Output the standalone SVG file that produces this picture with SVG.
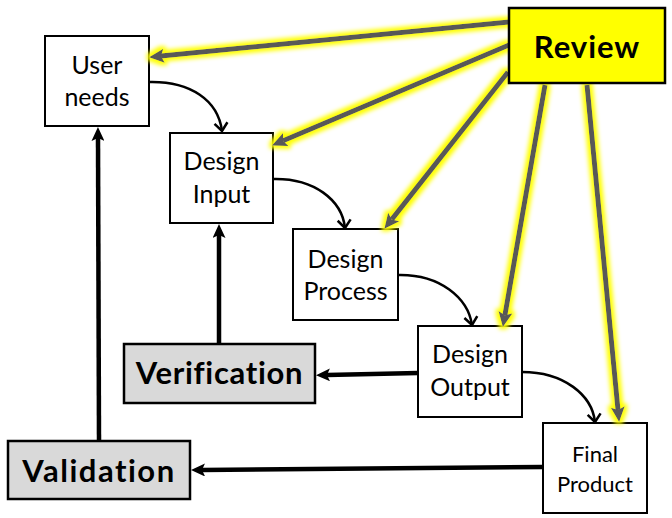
<svg xmlns="http://www.w3.org/2000/svg" width="672" height="518" viewBox="0 0 672 518">
<style>
.box{fill:#ffffff;stroke:#000;stroke-width:2}
.gbox{fill:#d9d9d9;stroke:#000;stroke-width:2.5}
.ybox{fill:#ffff00;stroke:#000;stroke-width:2.5}
.t{font-family:Lato,"Liberation Sans",sans-serif;font-size:25px;fill:#000;text-anchor:middle}
.ts{font-family:Lato,"Liberation Sans",sans-serif;font-size:22px;fill:#000;text-anchor:middle}
.tb{font-family:Lato,"Liberation Sans",sans-serif;font-size:31px;font-weight:bold;fill:#000;text-anchor:middle}
.gray{stroke:#595959;stroke-width:5;fill:none;marker-end:url(#gh)}
.thick{stroke:#000;stroke-width:4.5;fill:none;marker-end:url(#bh)}
.thin{stroke:#000;stroke-width:2.5;fill:none;marker-end:url(#ch)}
</style>
<defs>
<marker id="gh" viewBox="0 0 15 14" markerWidth="15" markerHeight="14" refX="3" refY="7" orient="auto" markerUnits="userSpaceOnUse">
<path d="M0,0 L15,7 L0,14 L3,7 z" fill="#595959"/>
</marker>
<marker id="bh" viewBox="0 0 14 13" markerWidth="14" markerHeight="13" refX="3" refY="6.5" orient="auto" markerUnits="userSpaceOnUse">
<path d="M0,0 L14,6.5 L0,13 L3,6.5 z" fill="#000"/>
</marker>
<marker id="ch" viewBox="-10 -8 12 16" markerWidth="12" markerHeight="16" refX="0" refY="0" orient="auto" markerUnits="userSpaceOnUse">
<path d="M-8,-6.5 L0,0 L-8,6.5" fill="none" stroke="#000" stroke-width="2.5"/>
</marker>
<filter id="glow" filterUnits="userSpaceOnUse" x="0" y="0" width="672" height="518">
<feMorphology in="SourceAlpha" operator="dilate" radius="3" result="d"/>
<feGaussianBlur in="d" stdDeviation="2" result="b"/>
<feFlood flood-color="#ffff00"/>
<feComposite in2="b" operator="in" result="g"/>
<feMerge><feMergeNode in="g"/><feMergeNode in="SourceGraphic"/></feMerge>
</filter>
</defs>

<g id="user-needs">
<rect class="box" x="45" y="36" width="104" height="90"/>
<text class="t" x="97" y="74">User</text>
<text class="t" x="97" y="106">needs</text>
</g>
<g id="design-input">
<rect class="box" x="170" y="133" width="103" height="90"/>
<text class="t" x="221.5" y="170">Design</text>
<text class="t" x="221.5" y="203">Input</text>
</g>
<g id="design-process">
<rect class="box" x="293" y="229" width="105" height="91"/>
<text class="t" x="345.5" y="268">Design</text>
<text class="t" x="345.5" y="300">Process</text>
</g>
<g id="design-output">
<rect class="box" x="418" y="326" width="104" height="91"/>
<text class="t" x="470" y="363">Design</text>
<text class="t" x="470" y="396">Output</text>
</g>
<g id="final-product">
<rect class="box" x="543" y="423" width="104" height="90"/>
<text class="ts" x="595" y="462">Final</text>
<text class="ts" x="595" y="492">Product</text>
</g>
<g id="verification">
<rect class="gbox" x="124" y="344" width="191" height="59"/>
<text class="tb" x="219.5" y="384" font-size="30" letter-spacing="0.7">Verification</text>
</g>
<g id="validation">
<rect class="gbox" x="8" y="441" width="182" height="58"/>
<text class="tb" x="99" y="482" letter-spacing="1.5">Validation</text>
</g>

<g id="connectors">
<path class="thin" d="M149,82 C190,81 218,100 222,131"/>
<path class="thin" d="M273,179 C314,178 342,200 345,228"/>
<path class="thin" d="M398,275 C440,274 468,298 472,325"/>
<path class="thin" d="M522,372 C564,372 592,395 595,422"/>
<path class="thick" d="M99,441 L98,138"/>
<path class="thick" d="M219,344 L219,235"/>
<path class="thick" d="M418,373 L327,375"/>
<path class="thick" d="M543,467 L202,470"/>
<g filter="url(#glow)">
<path class="gray" d="M509,22 L161,56"/>
<path class="gray" d="M509,45 L283,140.7"/>
<path class="gray" d="M508,72 L391.8,219.4"/>
<path class="gray" d="M545,85 L504.9,315.2"/>
<path class="gray" d="M587,85 L618,410"/>
</g>
</g>

<g id="review">
<rect class="ybox" x="509" y="8" width="156" height="75"/>
<text class="tb" x="587" y="58" font-size="32" letter-spacing="1">Review</text>
</g>
</svg>
